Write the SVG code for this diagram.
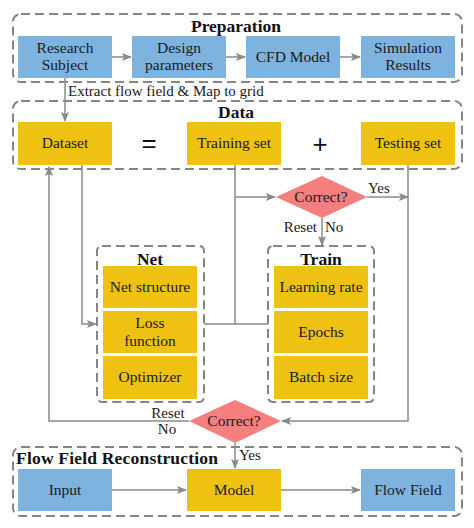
<svg xmlns="http://www.w3.org/2000/svg" width="474" height="528" viewBox="0 0 474 528">
<defs>
<marker id="ah" markerWidth="10" markerHeight="8" refX="9" refY="4" orient="auto" markerUnits="userSpaceOnUse">
<path d="M0,0 L10,4 L0,8 L2,4 Z" fill="#8a8a8a"/>
</marker>
<style>
.grp{fill:none;stroke:#858585;stroke-width:2;stroke-dasharray:9 5}
.blue{fill:#7DB3DE}
.yel{fill:#EFC113}
.dia{fill:#F47F7E}
.t{font-family:'Liberation Serif',serif;font-size:15.5px;fill:#1a1a1a;text-anchor:middle}
.h{font-family:'Liberation Serif',serif;font-size:17.5px;font-weight:bold;fill:#111;text-anchor:middle}
.lbl{font-family:'Liberation Serif',serif;font-size:15px;fill:#1a1a1a}
.sym{font-family:'Liberation Sans',sans-serif;font-size:26px;fill:#111;text-anchor:middle}
.c{fill:none;stroke:#8a8a8a;stroke-width:1.5}
</style>
</defs>
<rect width="474" height="528" fill="#fff"/>

<g id="preparation">
<rect class="grp" x="13" y="14" width="449" height="68" rx="8"/>
<text class="h" x="236" y="32">Preparation</text>
</g>
<g id="data">
<rect class="grp" x="13" y="101" width="449" height="68" rx="8"/>
<text class="h" x="236" y="118">Data</text>
</g>
<g id="net">
<rect class="grp" x="97" y="246" width="107" height="156" rx="5"/>
<text class="h" x="150" y="265">Net</text>
</g>
<g id="train">
<rect class="grp" x="268" y="246" width="106" height="156" rx="5"/>
<text class="h" x="321" y="265">Train</text>
</g>
<g id="reconstruction">
<rect class="grp" x="13" y="447" width="449" height="69" rx="8"/>
<text class="h" x="16" y="464" style="text-anchor:start" textLength="202">Flow Field Reconstruction</text>
</g>

<g id="connectors">
<path class="c" d="M112,57 H131" marker-end="url(#ah)"/>
<path class="c" d="M226,57 H245" marker-end="url(#ah)"/>
<path class="c" d="M340,57 H360" marker-end="url(#ah)"/>
<path class="c" d="M65,78 V121" marker-end="url(#ah)"/>
<path class="c" d="M82,165 V324 H96" marker-end="url(#ah)"/>
<path class="c" d="M189,421 H49 V167" marker-end="url(#ah)"/>
<path class="c" d="M235,165 V324"/>
<path class="c" d="M204,324 H268"/>
<path class="c" d="M235,197 H275" marker-end="url(#ah)"/>
<path class="c" d="M367,197 H408" marker-end="url(#ah)"/>
<path class="c" d="M408,165 V421 H282" marker-end="url(#ah)"/>
<path class="c" d="M322,218 V245" marker-end="url(#ah)"/>
<path class="c" d="M235,443 V468" marker-end="url(#ah)"/>
<path class="c" d="M112,490 H186" marker-end="url(#ah)"/>
<path class="c" d="M281,490 H360" marker-end="url(#ah)"/>
</g>

<text class="lbl" x="68" y="96">Extract flow field &amp; Map to grid</text>

<g id="research-subject">
<rect class="blue" x="18" y="36" width="94" height="42"/>
<text class="t" x="65" y="53">Research</text>
<text class="t" x="65" y="70">Subject</text>
</g>
<g id="design-parameters">
<rect class="blue" x="132" y="36" width="94" height="42"/>
<text class="t" x="179" y="53">Design</text>
<text class="t" x="179" y="70">parameters</text>
</g>
<g id="cfd-model">
<rect class="blue" x="246" y="36" width="94" height="42"/>
<text class="t" x="293" y="62">CFD Model</text>
</g>
<g id="simulation-results">
<rect class="blue" x="361" y="36" width="94" height="42"/>
<text class="t" x="408" y="53">Simulation</text>
<text class="t" x="408" y="70">Results</text>
</g>

<g id="dataset">
<rect class="yel" x="18" y="122" width="94" height="43"/>
<text class="t" x="65" y="148">Dataset</text>
</g>
<text class="sym" x="149" y="152">=</text>
<g id="training-set">
<rect class="yel" x="187" y="122" width="94" height="43"/>
<text class="t" x="234" y="148">Training set</text>
</g>
<text class="sym" x="320" y="153">+</text>
<g id="testing-set">
<rect class="yel" x="361" y="122" width="94" height="43"/>
<text class="t" x="408" y="148">Testing set</text>
</g>

<g id="correct-1">
<polygon class="dia" points="322,176 367,197 322,218 276,197"/>
<text class="t" x="321" y="202">Correct?</text>
</g>
<text class="lbl" x="368" y="193">Yes</text>
<text class="lbl" x="317" y="232" style="text-anchor:end">Reset</text>
<text class="lbl" x="325" y="232">No</text>

<g id="net-structure">
<rect class="yel" x="103" y="266" width="94" height="42"/>
<text class="t" x="150" y="292">Net structure</text>
</g>
<g id="loss-function">
<rect class="yel" x="103" y="311" width="94" height="42"/>
<text class="t" x="150" y="328">Loss</text>
<text class="t" x="150" y="346">function</text>
</g>
<g id="optimizer">
<rect class="yel" x="103" y="356" width="94" height="43"/>
<text class="t" x="150" y="382">Optimizer</text>
</g>
<g id="learning-rate">
<rect class="yel" x="274" y="266" width="94" height="42"/>
<text class="t" x="321" y="292">Learning rate</text>
</g>
<g id="epochs">
<rect class="yel" x="274" y="311" width="94" height="42"/>
<text class="t" x="321" y="337">Epochs</text>
</g>
<g id="batch-size">
<rect class="yel" x="274" y="356" width="94" height="43"/>
<text class="t" x="321" y="382">Batch size</text>
</g>

<g id="correct-2">
<polygon class="dia" points="235,400 281,421 235,443 189,421"/>
<text class="t" x="234" y="426">Correct?</text>
</g>
<text class="lbl" x="168" y="418" style="text-anchor:middle">Reset</text>
<text class="lbl" x="167" y="434" style="text-anchor:middle">No</text>
<text class="lbl" x="239" y="460">Yes</text>

<g id="input">
<rect class="blue" x="18" y="469" width="94" height="42"/>
<text class="t" x="65" y="495">Input</text>
</g>
<g id="model">
<rect class="yel" x="187" y="469" width="94" height="42"/>
<text class="t" x="234" y="495">Model</text>
</g>
<g id="flow-field">
<rect class="blue" x="361" y="469" width="94" height="42"/>
<text class="t" x="408" y="495">Flow Field</text>
</g>
</svg>
